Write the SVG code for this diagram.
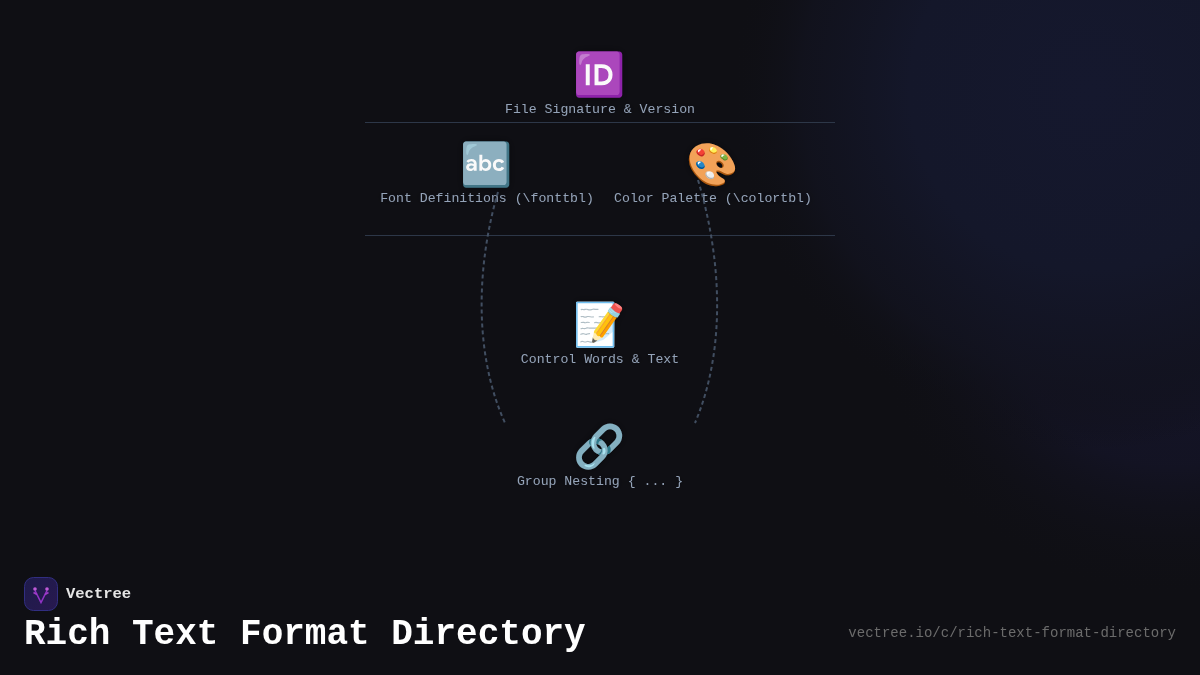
<svg xmlns="http://www.w3.org/2000/svg" width="1200" height="675" viewBox="0 0 1200 675">
<defs>
<radialGradient id="glow" gradientUnits="userSpaceOnUse" cx="1090" cy="90" r="360">
<stop offset="0" stop-color="#15182e"/><stop offset="0.5" stop-color="#14172a"/><stop offset="0.8" stop-color="#12131f" stop-opacity="0.8"/><stop offset="1" stop-color="#0f0f14" stop-opacity="0"/>
</radialGradient>
<radialGradient id="glow2" gradientUnits="userSpaceOnUse" cx="1170" cy="300" r="300">
<stop offset="0" stop-color="#15152b"/><stop offset="0.55" stop-color="#141426" stop-opacity="0.85"/><stop offset="1" stop-color="#0f0f14" stop-opacity="0"/>
</radialGradient>
<linearGradient id="logo" x1="0" y1="0" x2="1" y2="1"><stop offset="0" stop-color="#1e1b4b"/><stop offset="1" stop-color="#28194f"/></linearGradient>
<filter id="halo" x="-30%" y="-30%" width="160%" height="160%"><feDropShadow dx="0" dy="0" stdDeviation="4" flood-color="#09090d" flood-opacity="0.4"/></filter>
<filter id="flat" x="0" y="0" width="100%" height="100%"><feOffset dx="0" dy="0"/></filter>
</defs>
<style>
.lbl{font-family:"Liberation Mono",monospace;font-size:13.2px;fill:#94a3b8;text-anchor:middle}
.emo{font-family:"Noto Color Emoji","Noto Sans",sans-serif;font-size:42px;text-anchor:middle}
.sep{stroke:#2d3748;stroke-width:1}
.conn{fill:none;stroke:#475569;stroke-width:2;stroke-dasharray:4 3}
.node{filter:url(#halo)}
.brand{filter:url(#flat)}
</style>
<rect width="1200" height="675" fill="#0f0f14"/>
<rect width="1200" height="675" fill="url(#glow2)"/>
<rect width="1200" height="675" fill="url(#glow)"/>
<line class="sep" x1="365" y1="122.500" x2="835" y2="122.500"/>
<line class="sep" x1="365" y1="235.500" x2="835" y2="235.500"/>
<g id="node-signature" class="node"><text class="emo" x="600" y="89">🆔</text><text class="lbl" x="600" y="113">File Signature &amp; Version</text></g>
<g id="node-fonts" class="node"><text class="emo" x="487" y="179">🔤</text><text class="lbl" x="487" y="202">Font Definitions (\fonttbl)</text></g>
<g id="node-colors" class="node"><text class="emo" x="713" y="179">🎨</text><text class="lbl" x="713" y="202">Color Palette (\colortbl)</text></g>
<g id="node-control" class="node"><text class="emo" x="600" y="339">📝</text><text class="lbl" x="600" y="363">Control Words &amp; Text</text></g>
<g id="node-group" class="node"><text class="emo" x="600" y="461">🔗</text><text class="lbl" x="600" y="485">Group Nesting { ... }</text></g>
<g id="connectors">
<path class="conn" d="M498 192C478 260 472 350 505 423" opacity=".9"/>
<path class="conn" d="M698 180C722 260 726 350 695 423" opacity=".9"/>
</g>
<g id="brand">
<rect x="24.500" y="577.500" width="33" height="33" rx="9" fill="url(#logo)" stroke="#312e81"/>
<path d="M35 590.500L41 602.500L47 590.500" fill="none" stroke="#9333c8" stroke-width="1.500"/>
<path d="M33.500 592.500L37 594.500M48.500 592.500L45 594.500" stroke="#a03cc8" stroke-width="1.500"/>
<circle cx="35" cy="589" r="1.800" fill="#c05ad8"/><circle cx="47" cy="589" r="1.800" fill="#c05ad8"/>
<g class="brand">
<text x="66" y="597.500" font-family="Liberation Mono,monospace" font-weight="700" font-size="15.500" fill="#e5e5e5">Vectree</text>
<text x="24" y="644" font-family="Liberation Mono,monospace" font-weight="700" font-size="36" fill="#ffffff">Rich Text Format Directory</text>
<text x="1176" y="637" font-family="Liberation Mono,monospace" font-size="14" fill="#6b6b6b" text-anchor="end">vectree.io/c/rich-text-format-directory</text>
</g>
</g>
</svg>
